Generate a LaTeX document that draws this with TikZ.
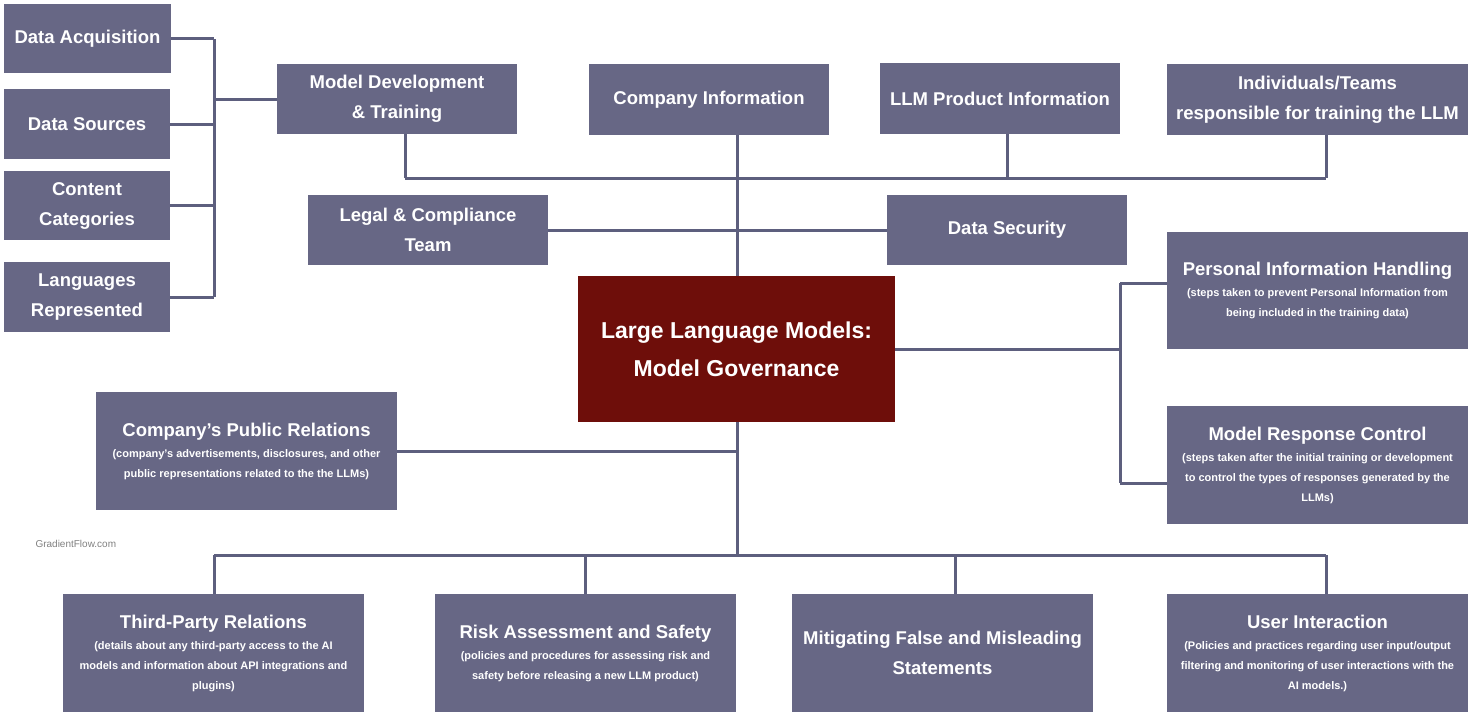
\documentclass[tikz,border=0pt]{standalone}
\usepackage{fontspec}
\setmainfont{Liberation Sans}
\begin{document}
\definecolor{bx}{HTML}{676785}
\definecolor{ln}{HTML}{5D5F7E}
\definecolor{ctr}{HTML}{6E0E0A}
\newcommand{\subt}{\fontsize{11}{19}\selectfont}
\newcommand{\B}[6]{\node[box,minimum width=#4-#2,minimum height=#5-#3] (#1) at ({(#2+#4)/2},{(#3+#5)/2}) {#6};}
\begin{tikzpicture}[x=1pt,y=-1pt,
  box/.style={fill=bx,text=white,font=\bfseries\fontsize{18.5}{30}\selectfont,align=center,inner sep=0pt},
  wire/.style={draw=ln,line width=3pt}]
\useasboundingbox (0,0) rectangle (1472,715);
\coordinate (l1) at (214,39); \coordinate (l4) at (214,297);
\draw[wire] (l1) -- (l4);
\coordinate (bl) at (405,178); \coordinate (br) at (1326,178);
\draw[wire] (bl) -- (br);
\coordinate (rt) at (1120,283); \coordinate (rb) at (1120,483);
\draw[wire] (rt) -- (rb);
\coordinate (ql) at (214,555); \coordinate (qr) at (1326,555);
\draw[wire] (ql) -- (qr);
\coordinate (q0) at (737,555);
\coordinate (ct) at (737,135);
\B{da}{4}{4}{171}{73}{Data Acquisition}
\B{ds}{4}{89}{170}{159}{Data Sources}
\B{cc}{4}{171}{170}{240}{Content\\Categories}
\B{lr}{4}{262}{170}{332}{Languages\\Represented}
\B{md}{277}{64}{517}{134}{Model Development\\\& Training}
\B{ci}{589}{64}{829}{135}{Company Information}
\B{lp}{880}{63}{1120}{134}{LLM Product Information}
\B{it}{1167}{64}{1468}{135}{Individuals/Teams\\responsible for training the LLM}
\B{lc}{308}{195}{548}{265}{Legal \& Compliance\\Team}
\B{dsec}{887}{195}{1127}{265}{Data Security}
\node[box,fill=ctr,minimum width=317,minimum height=146,font=\bfseries\fontsize{23}{38}\selectfont] (c) at (736.5,349) {Large Language Models:\\Model Governance};
\B{pi}{1167}{232}{1468}{349}{Personal Information Handling\\[-9pt]\subt (steps taken to prevent Personal Information from\\[-10pt]\subt being included in the training data)}
\B{mr}{1167}{406}{1468}{524}{Model Response Control\\[-9pt]\subt (steps taken after the initial training or development\\[-10pt]\subt to control the types of responses generated by the\\[-10pt]\subt LLMs)}
\B{pr}{96}{392}{397}{510}{Company's Public Relations\\[-9pt]\subt (company's advertisements, disclosures, and other\\[-10pt]\subt public representations related to the the LLMs)}
\B{tp}{63}{594}{364}{712}{Third-Party Relations\\[-9pt]\subt (details about any third-party access to the AI\\[-10pt]\subt models and information about API integrations and\\[-10pt]\subt plugins)}
\B{ra}{435}{594}{736}{712}{Risk Assessment and Safety\\[-9pt]\subt (policies and procedures for assessing risk and\\[-10pt]\subt safety before releasing a new LLM product)}
\B{mf}{792}{594}{1093}{712}{Mitigating False and Misleading\\Statements}
\B{ui}{1167}{594}{1468}{712}{User Interaction\\[-9pt]\subt (Policies and practices regarding user input/output\\[-10pt]\subt filtering and monitoring of user interactions with the\\[-10pt]\subt AI models.)}
\draw[wire] (da.east) -- (da.east -| l1);
\draw[wire] (ds.east) -- (ds.east -| l1);
\draw[wire] (cc.east) -- (cc.east -| l1);
\draw[wire] (lr.east) -- (lr.east -| l1);
\draw[wire] (md.west) -- (md.west -| l1);
\draw[wire] (md.south -| bl) -- (bl);
\coordinate (lpx) at (1007,178);
\draw[wire] (lp.south -| lpx) -- (lpx);
\draw[wire] (it.south -| br) -- (br);
\draw[wire] (ct) -- (ct |- c.north);
\draw[wire] (lc.east) -- (dsec.west);
\draw[wire] (c.east) -- (c.east -| rt);
\draw[wire] (pi.west |- rt) -- (rt);
\draw[wire] (mr.west |- rb) -- (rb);
\draw[wire] (c.south -| q0) -- (q0);
\draw[wire] (pr.east) -- (pr.east -| q0);
\draw[wire] (ql) -- (ql |- tp.north);
\coordinate (q2) at (585,555); \coordinate (q3) at (955,555);
\draw[wire] (q2) -- (q2 |- ra.north);
\draw[wire] (q3) -- (q3 |- mf.north);
\draw[wire] (qr) -- (qr |- ui.north);
\node[anchor=west,text=gray,font=\fontsize{10}{12}\selectfont] (gf) at (32,544) {GradientFlow.com};
\end{tikzpicture}
\end{document}
